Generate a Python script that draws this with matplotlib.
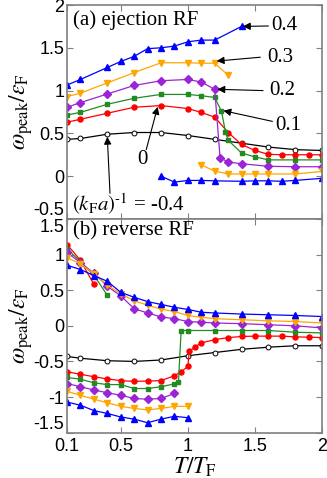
import matplotlib
matplotlib.use("Agg")
import matplotlib.pyplot as plt

plt.rcParams['mathtext.fontset'] = 'stix'
plt.rcParams['axes.unicode_minus'] = False

# ---- (a) ejection RF ----
T_black = [0.1, 0.2, 0.4, 0.6, 0.8, 1.0, 1.2, 1.4, 1.6, 1.8, 2.0]
a_black = [0.43, 0.44, 0.49, 0.51, 0.51, 0.475, 0.43, 0.385, 0.34, 0.31, 0.30]

a_red_T = [0.1, 0.2, 0.4, 0.6, 0.8, 1.0, 1.1, 1.2, 1.3, 1.4, 1.5, 1.6, 1.7, 1.8, 1.9, 2.0]
a_red = [0.63, 0.665, 0.735, 0.805, 0.825, 0.79, 0.745, 0.69, 0.51, 0.37, 0.30, 0.255,
         0.25, 0.25, 0.25, 0.25]

a_green_T = [0.1, 0.2, 0.4, 0.6, 0.8, 1.0, 1.1, 1.2, 1.25, 1.28, 1.3, 1.4, 1.5, 1.6, 1.8, 2.0]
a_green = [0.715, 0.745, 0.84, 0.91, 0.955, 0.955, 0.94, 0.92, 0.76, 0.52, 0.42, 0.27,
           0.225, 0.19, 0.19, 0.19]

a_purple_T = [0.1, 0.2, 0.4, 0.6, 0.8, 1.0, 1.1, 1.2, 1.24, 1.3, 1.4, 1.6, 1.8, 2.0]
a_purple = [0.805, 0.86, 0.96, 1.06, 1.115, 1.13, 1.10, 1.015, 0.215, 0.165, 0.145,
            0.115, 0.11, 0.11]

a_orange_up_T = [0.1, 0.2, 0.4, 0.6, 0.8, 1.0, 1.1, 1.2, 1.3]
a_orange_up = [0.93, 0.97, 1.09, 1.21, 1.325, 1.325, 1.32, 1.32, 1.18]
a_orange_lo_T = [1.1, 1.2, 1.3, 1.4, 1.5, 1.6, 1.8, 2.0]
a_orange_lo = [0.13, 0.06, 0.025, 0.025, 0.025, 0.025, 0.025, 0.055]

a_blue_up_T = [0.1, 0.2, 0.4, 0.5, 0.6, 0.7, 0.8, 0.9, 1.0, 1.1, 1.2, 1.4]
a_blue_up = [1.065, 1.13, 1.27, 1.34, 1.40, 1.49, 1.50, 1.52, 1.57, 1.59, 1.59, 1.75]
a_blue_lo_T = [0.8, 0.9, 1.0, 1.1, 1.2, 1.4, 1.5, 1.6, 1.7, 1.8, 2.0]
a_blue_lo = [0.0, -0.07, -0.05, -0.05, -0.055, -0.06, -0.055, -0.055, -0.06, -0.05, -0.025]

# ---- (b) reverse RF ----
b_black = [-0.43, -0.455, -0.49, -0.50, -0.48, -0.42, -0.375, -0.33, -0.30, -0.28, -0.28]

b_red_up_T = [0.1, 0.2, 0.3]
b_red_up = [1.14, 0.92, 0.58]
b_red_lo_T = [0.1, 0.2, 0.3, 0.4, 0.5, 0.6, 0.7, 0.8, 0.9, 0.95, 1.0, 1.01, 1.05, 1.1,
              1.2, 1.3, 1.4, 1.5, 1.6, 1.7, 1.8, 1.9, 2.0]
b_red_lo = [-0.645, -0.68, -0.715, -0.745, -0.77, -0.78, -0.775, -0.77, -0.70, -0.645,
            -0.57, -0.36, -0.30, -0.24, -0.195, -0.165, -0.15, -0.145, -0.145, -0.145,
            -0.155, -0.16, -0.165]

b_green_up_T = [0.1, 0.2, 0.3, 0.4]
b_green_up = [1.08, 0.90, 0.71, 0.43]
b_green_lo_T = [0.1, 0.2, 0.3, 0.4, 0.5, 0.6, 0.7, 0.8, 0.9, 0.93, 0.95, 1.0, 1.2, 1.4,
                1.6, 1.8, 2.0]
b_green_lo = [-0.725, -0.75, -0.80, -0.825, -0.825, -0.88, -0.88, -0.855, -0.815, -0.79,
              -0.066, -0.066, -0.066, -0.066, -0.066, -0.09, -0.10]

T_up = [0.1, 0.2, 0.3, 0.4, 0.5, 0.6, 0.7, 0.8, 0.9, 1.0, 1.1, 1.2, 1.4, 1.6, 1.8, 2.0]
b_purple_up = [1.03, 0.885, 0.74, 0.555, 0.42, 0.24, 0.18, 0.125, 0.10, 0.06, 0.05, 0.04,
               0.03, 0.015, 0.0, -0.03]
b_orange_up = [0.955, 0.87, 0.73, 0.57, 0.45, 0.35, 0.29, 0.235, 0.20, 0.145, 0.12, 0.10,
               0.085, 0.07, 0.06, 0.04]
b_blue_up = [0.85, 0.79, 0.705, 0.625, 0.47, 0.40, 0.34, 0.30, 0.26, 0.23, 0.19, 0.18,
             0.165, 0.155, 0.145, 0.13]

T_lo = [0.1, 0.2, 0.3, 0.4, 0.5, 0.6, 0.7, 0.8, 0.9, 1.0]
b_purple_lo = [-0.81, -0.855, -0.90, -0.94, -0.975, -1.02, -1.03, -1.02, -0.95]
b_orange_lo = [-0.92, -0.975, -1.03, -1.08, -1.13, -1.16, -1.18, -1.16, -1.13, -1.13]
b_blue_lo = [-1.07, -1.115, -1.19, -1.23, -1.28, -1.31, -1.36, -1.31, -1.27, -1.29]

BLUE = '#0000ff'
ORANGE = '#ffa500'
PURPLE = '#9a24d6'
GREEN = '#228b22'
RED = '#ff0000'

x_ticks = [0.1, 0.5, 1, 1.5, 2]
x_ticklabels = ['0.1', '0.5', '1', '1.5', '2']


def curve(ax, x, y, color, marker, ms=3.6):
    ax.plot(x, y, color=color, lw=0.9, marker=marker, ms=ms, mec=color, mfc=color)


def black_curve(ax, x, y):
    ax.plot(x, y, color='k', lw=0.9, marker='o', ms=3.5, mfc='white', mec='k', mew=0.7)


def style_axes(ax):
    for s in ax.spines.values():
        s.set_color('#808080')
        s.set_linewidth(1.2)
    ax.tick_params(direction='in', top=True, right=True, length=4, width=0.8,
                   color='#808080', labelsize=13, pad=2)
    for lab in ax.get_xticklabels() + ax.get_yticklabels():
        lab.set_fontfamily('Liberation Sans')
    ax.set_xlim(0.1, 2.0)
    ax.set_xticks(x_ticks)


def arrow(ax, start, end):
    ax.annotate('', xy=end, xytext=start,
                arrowprops=dict(arrowstyle='-|>', color='k', lw=0.8,
                                mutation_scale=11, shrinkA=0, shrinkB=0))


fig = plt.figure(figsize=(3.27, 4.78), dpi=100)
ax1 = fig.add_axes([0.205, 0.542, 0.78, 0.4475])
ax2 = fig.add_axes([0.205, 0.0948, 0.78, 0.4472])

# panel (a)
black_curve(ax1, T_black, a_black)
curve(ax1, a_red_T, a_red, RED, 'o')
curve(ax1, a_green_T, a_green, GREEN, 's', 3.4)
curve(ax1, a_purple_T, a_purple, PURPLE, 'D', 3.6)
curve(ax1, a_orange_up_T, a_orange_up, ORANGE, 'v', 4.2)
curve(ax1, a_orange_lo_T, a_orange_lo, ORANGE, 'v', 4.2)
curve(ax1, a_blue_up_T, a_blue_up, BLUE, '^', 4.2)
curve(ax1, a_blue_lo_T, a_blue_lo, BLUE, '^', 4.2)

ax1.set_ylim(-0.5, 2)
ax1.set_yticks([-0.5, 0, 0.5, 1, 1.5, 2])
ax1.set_yticklabels(['-0.5', '0', '0.5', '1', '1.5', '2'])
style_axes(ax1)
ax1.set_xticklabels([])
ax1.get_yticklabels()[0].set_va('bottom')

serif = ['Liberation Serif', 'DejaVu Serif']
ax1.text(0.024, 0.93, '(a) ejection RF', transform=ax1.transAxes, fontsize=15,
         family=serif, va='center', ha='left')

labels_a = [('0.4', (1.715, 1.76), (1.60, 1.755), (1.41, 1.75)),
            ('0.3', (1.69, 1.386), (1.54, 1.39), (1.215, 1.345)),
            ('0.2', (1.70, 1.0), (1.56, 1.0), (1.22, 1.015)),
            ('0.1', (1.75, 0.59), (1.63, 0.64), (1.265, 0.765)),
            ('0', (0.66, 0.195), (0.69, 0.31), (0.775, 0.81))]
for txt, pos, start, end in labels_a:
    ax1.text(pos[0], pos[1], txt, fontsize=15, family=serif, ha='center', va='center')
    arrow(ax1, start, end)

ax1.text(0.135, -0.33, r'$(k_{\rm F}a)^{\text{-}1}$ = -0.4', fontsize=15, family=serif,
         ha='left', va='center')
arrow(ax1, (0.42, -0.2), (0.40, 0.46))

# panel (b)
black_curve(ax2, T_black, b_black)
curve(ax2, b_red_up_T, b_red_up, RED, 'o')
curve(ax2, b_red_lo_T, b_red_lo, RED, 'o')
curve(ax2, b_green_up_T, b_green_up, GREEN, 's', 3.4)
curve(ax2, b_green_lo_T, b_green_lo, GREEN, 's', 3.4)
curve(ax2, T_up, b_purple_up, PURPLE, 'D')
curve(ax2, T_lo[:len(b_purple_lo)], b_purple_lo, PURPLE, 'D')
curve(ax2, T_up, b_orange_up, ORANGE, 'v', 4.2)
curve(ax2, T_lo, b_orange_lo, ORANGE, 'v', 4.2)
curve(ax2, T_up, b_blue_up, BLUE, '^', 4.2)
curve(ax2, T_lo, b_blue_lo, BLUE, '^', 4.2)

ax2.set_ylim(-1.5, 1.5)
ax2.set_yticks([-1.5, -1, -0.5, 0, 0.5, 1, 1.5])
ax2.set_yticklabels(['-1.5', '-1', '-0.5', '0', '0.5', '1', '1.5'])
style_axes(ax2)
ax2.set_xticklabels(x_ticklabels)
for lab in ax2.get_xticklabels():
    lab.set_fontfamily('Liberation Sans')
ax2.get_yticklabels()[-1].set_va('top')
ax2.get_yticklabels()[0].set_va('bottom')
ax2.tick_params(axis='x', pad=4)

ax2.text(0.024, 0.945, '(b) reverse RF', transform=ax2.transAxes, fontsize=15,
         family=serif, va='center', ha='left')

for ax in (ax1, ax2):
    ax.set_ylabel(r'$\omega_{\rm peak}/\varepsilon_{\rm F}$', fontsize=17)
    ax.yaxis.set_label_coords(-0.125, 0.5)
ax2.set_xlabel(r'$T/T_{\rm F}$', fontsize=17, labelpad=0)

fig.savefig('out.png', dpi=100)
